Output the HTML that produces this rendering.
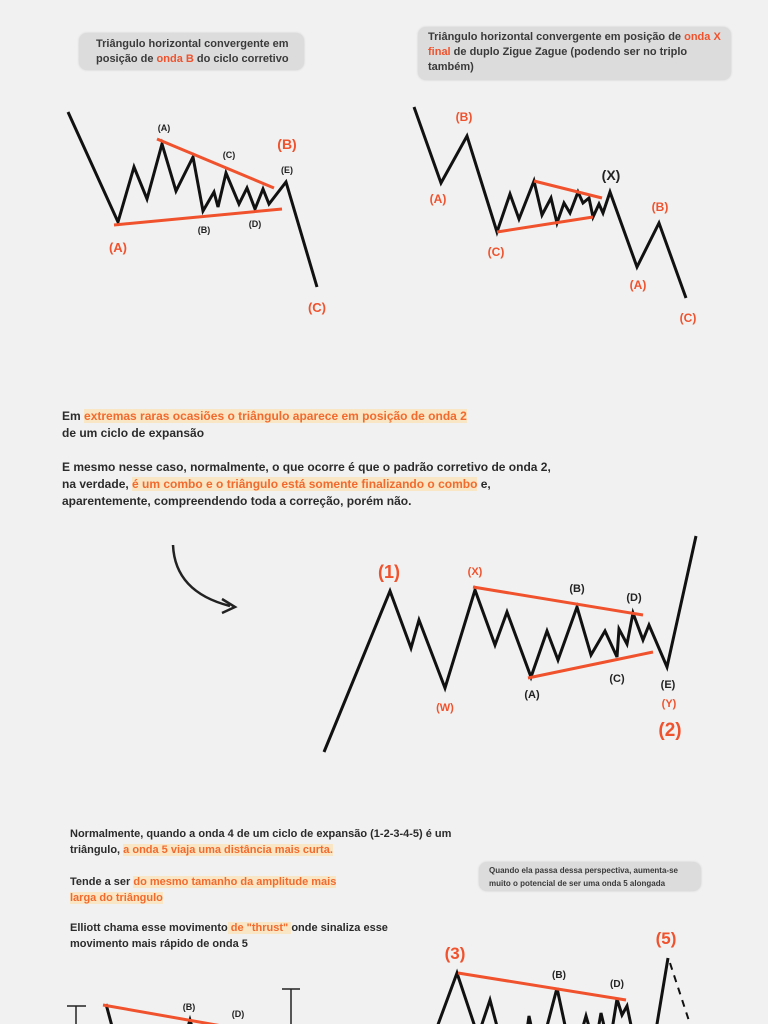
<!DOCTYPE html>
<html><head><meta charset="utf-8"><style>
body{margin:0;background:#f1f1f1;}
#root{position:relative;width:768px;height:1024px;overflow:hidden;background:#f1f1f1;font-family:"Liberation Sans",sans-serif;color:#2b2b2b;font-weight:bold}
.box{position:absolute;background:#dcdcdc;border-radius:8px;box-shadow:0 0 2px #ccc;color:#3a3a3a}
.t{position:absolute;white-space:nowrap}
.hl{background:#f9e6c4;color:#f26a2e}
.r{color:#f0522d}
svg{position:absolute;left:0;top:0}
</style></head><body>
<div id="root">
<div class="box" style="left:79px;top:33px;width:225px;height:37px;font-size:11px;line-height:15px;padding:0;">
<div style="position:absolute;left:17px;top:4px;white-space:nowrap">Triângulo horizontal convergente em<br>posição de <span class="r">onda B</span> do ciclo corretivo</div></div>
<div class="box" style="left:418px;top:27px;width:313px;height:53px;font-size:11px;line-height:15px;">
<div style="position:absolute;left:10px;top:3px;white-space:nowrap">Triângulo horizontal convergente em posição de <span class="r">onda X</span><br><span class="r">final</span> de duplo Zigue Zague (podendo ser no triplo<br>também)</div></div>
<div class="t" style="left:62px;top:408px;font-size:12px;line-height:17px;">
Em <span class="hl">extremas raras ocasiões o triângulo aparece em posição de onda 2 </span><br>de um ciclo de expansão<br><br>E mesmo nesse caso, normalmente, o que ocorre é que o padrão corretivo de onda 2,<br>na verdade, <span class="hl">é um combo e o triângulo está somente finalizando o combo</span> e,<br>aparentemente, compreendendo toda a correção, porém não.</div>
<div class="t" style="left:70px;top:826px;font-size:11px;line-height:16px;">
Normalmente, quando a onda 4 de um ciclo de expansão (1-2-3-4-5) é um<br>triângulo, <span class="hl">a onda 5 viaja uma distância mais curta.</span><br><br>Tende a ser <span class="hl">do mesmo tamanho da amplitude mais </span><br><span class="hl">larga do triângulo </span></div>
<div class="t" style="left:70px;top:920px;font-size:11px;line-height:16px;">
Elliott chama esse movimento<span class="hl"> de "thrust" </span>onde sinaliza esse<br>movimento mais rápido de onda 5</div>
<div class="box" style="left:479px;top:862px;width:222px;height:29px;font-size:8px;line-height:13px;">
<div style="position:absolute;left:10px;top:2px;white-space:nowrap">Quando ela passa dessa perspectiva, aumenta-se<br>muito o potencial de ser uma onda 5 alongada</div></div>
<svg id="svg" width="768" height="1024"></svg>
</div>
<script>
const wave1=[[68,112],[118,222],[134,167],[147,199],[162,144],[176,191],[193,157],[203,211],[214,192],[218,207],[226,173],[239,204],[247,188],[255,209],[263,189],[269,204],[286,182],[317,287]];
const wave2=[[414,107],[441,183],[467,136],[497,232],[510,194],[519,219],[534,181],[542,215],[551,198],[557,223],[564,203],[570,213],[578,192],[583,203],[589,198],[593,217],[599,204],[603,213],[610,192],[637,267],[659,223],[686,298]];
const wave3=[[324,752],[390,591],[411,648],[419,620],[445,688],[475,590],[495,645],[507,612],[531,677],[547,631],[558,660],[577,607],[591,655],[605,631],[617,657],[619,629],[627,644],[633,613],[643,640],[649,625],[667,667],[696,536]];
const wave4=[[436,1030],[457,973],[476,1030]];
const wave4b=[[480,1030],[490,1000],[498,1030]];
const wave4c=[[527,1030],[529,1016],[532,1030]];
const wave4d=[[546,1030],[557,988],[566,1030]];
const wave4e=[[582,1030],[586,1016],[590,1030]];
const wave4f=[[598,1030],[601,1013],[605,1030]];
const wave4g=[[612,1030],[617,999],[622,1015],[627,1006],[632,1030]];
const wave4h=[[656,1030],[668,958]];
const wave5=[[106,1004],[113,1030]];
const wave5b=[[187,1030],[190,1020],[193,1030]];
const redLines=[[157,139,274,188],[114,225,282,209],[534,181,602,198],[497,232,593,217],[473,587,643,615],[528,678,653,652],[458,973,626,1000],[103,1005,222,1026]];
const labels=[["(A)",164,131,9,"#222"],["(C)",229,158,9,"#222"],["(B)",287,149,14,"#f0522d"],["(E)",287,173,9,"#222"],["(B)",204,233,9,"#222"],["(D)",255,227,9,"#222"],["(A)",118,252,13,"#f0522d"],["(C)",317,312,13,"#f0522d"],
["(B)",464,121,12,"#f0522d"],["(A)",438,203,12,"#f0522d"],["(X)",611,180,14,"#222"],["(B)",660,211,12,"#f0522d"],["(C)",496,256,12,"#f0522d"],["(A)",638,289,12,"#f0522d"],["(C)",688,322,12,"#f0522d"],
["(1)",389,578,18,"#f0522d"],["(X)",475,575,11,"#f0522d"],["(B)",577,592,11,"#222"],["(D)",634,601,11,"#222"],["(W)",445,711,11,"#f0522d"],["(A)",532,698,11,"#222"],["(C)",617,682,11,"#222"],["(E)",668,688,11,"#222"],["(Y)",669,707,11,"#f0522d"],["(2)",670,736,19,"#f0522d"],
["(3)",455,959,17,"#f0522d"],["(B)",559,978,10,"#222"],["(D)",617,987,10,"#222"],["(5)",666,944,17,"#f0522d"],["(B)",189,1010,9,"#222"],["(D)",238,1017,9,"#222"]];
const NS="http://www.w3.org/2000/svg";
const svg=document.getElementById('svg');
function mk(tag,attrs){const e=document.createElementNS(NS,tag);for(const k in attrs)e.setAttribute(k,attrs[k]);svg.appendChild(e);return e;}
[wave1,wave2,wave3,wave4,wave4b,wave4c,wave4d,wave4e,wave4f,wave4g,wave4h,wave5,wave5b].forEach((w,i)=>{
const p=mk('polyline',{points:w.map(q=>q.join(',')).join(' '),fill:'none',stroke:'#111','stroke-width':3,'stroke-linejoin':'miter'});


});
redLines.forEach(l=>{
const e=mk('line',{x1:l[0],y1:l[1],x2:l[2],y2:l[3],stroke:'#f0522d','stroke-width':3});


});
labels.forEach(l=>{
const t=mk('text',{x:l[1],y:l[2],'text-anchor':'middle','font-size':l[3],fill:l[4],'font-weight':'bold','font-family':'Liberation Sans, sans-serif'});
t.textContent=l[0];


});
const d=mk('line',{x1:670,y1:963,x2:692,y2:1030,stroke:'#111','stroke-width':2,'stroke-dasharray':'7,6'});


const a=mk('path',{d:'M173,545 Q175,592 230,606',fill:'none',stroke:'#222','stroke-width':2.5});


const ah=mk('path',{d:'M222,599 L235,607 L222,613',fill:'none',stroke:'#222','stroke-width':2.5});


[[76,1006,67,86],[291,989,282,300]].forEach(b=>{
const v=mk('path',{d:`M${b[0]},${b[1]} V1030 M${b[2]},${b[1]} H${b[3]}`,stroke:'#222','stroke-width':1.5,fill:'none'});


});
</script>
</body></html>
